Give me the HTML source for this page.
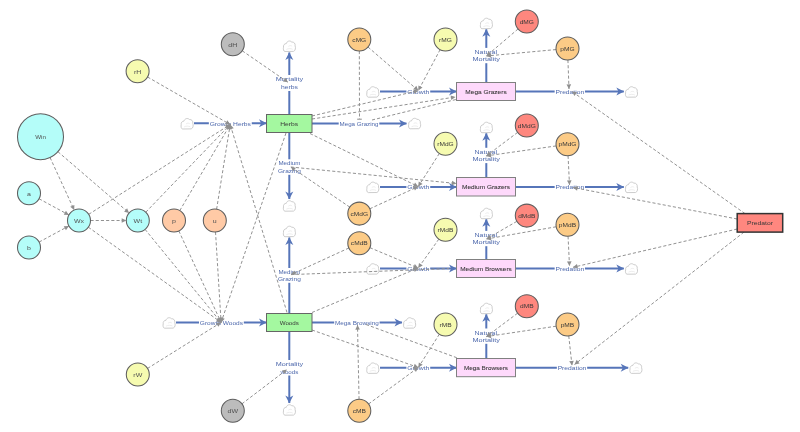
<!DOCTYPE html><html><head><meta charset="utf-8"><style>html,body{margin:0;padding:0;background:#fff;width:800px;height:432px;overflow:hidden}svg{display:block;will-change:transform}text{font-family:"Liberation Sans",sans-serif}</style></head><body><svg width="800" height="432" viewBox="0 0 800 432" font-family="Liberation Sans, sans-serif">
<rect width="800" height="432" fill="#fff"/>
<line x1="194" y1="123.3" x2="266.5" y2="123.3" stroke="#5675b9" stroke-width="2"/>
<path d="M266.80,123.30L259.00,127.30L261.20,123.30L259.00,119.30Z" fill="#5675b9"/>
<line x1="312" y1="123.5" x2="406.5" y2="123.5" stroke="#5675b9" stroke-width="2"/>
<path d="M406.80,123.50L399.00,127.50L401.20,123.50L399.00,119.50Z" fill="#5675b9"/>
<line x1="289.3" y1="114.5" x2="289.3" y2="52.5" stroke="#5675b9" stroke-width="2"/>
<path d="M289.30,52.20L293.30,60.00L289.30,57.80L285.30,60.00Z" fill="#5675b9"/>
<line x1="289.3" y1="132.5" x2="289.3" y2="199" stroke="#5675b9" stroke-width="2"/>
<path d="M289.30,199.30L285.30,191.50L289.30,193.70L293.30,191.50Z" fill="#5675b9"/>
<line x1="176" y1="322.5" x2="266.5" y2="322.5" stroke="#5675b9" stroke-width="2"/>
<path d="M266.80,322.50L259.00,326.50L261.20,322.50L259.00,318.50Z" fill="#5675b9"/>
<line x1="312" y1="322.5" x2="402" y2="322.5" stroke="#5675b9" stroke-width="2"/>
<path d="M402.30,322.50L394.50,326.50L396.70,322.50L394.50,318.50Z" fill="#5675b9"/>
<line x1="289.3" y1="313.5" x2="289.3" y2="237.5" stroke="#5675b9" stroke-width="2"/>
<path d="M289.30,237.20L293.30,245.00L289.30,242.80L285.30,245.00Z" fill="#5675b9"/>
<line x1="289.3" y1="331.5" x2="289.3" y2="403" stroke="#5675b9" stroke-width="2"/>
<path d="M289.30,403.30L285.30,395.50L289.30,397.70L293.30,395.50Z" fill="#5675b9"/>
<line x1="380" y1="91.5" x2="456.5" y2="91.5" stroke="#5675b9" stroke-width="2"/>
<path d="M456.80,91.50L449.00,95.50L451.20,91.50L449.00,87.50Z" fill="#5675b9"/>
<line x1="486.3" y1="82.5" x2="486.3" y2="29.3" stroke="#5675b9" stroke-width="2"/>
<path d="M486.30,29.00L490.30,36.80L486.30,34.60L482.30,36.80Z" fill="#5675b9"/>
<line x1="515.5" y1="91.5" x2="623.8" y2="91.5" stroke="#5675b9" stroke-width="2"/>
<path d="M624.10,91.50L616.30,95.50L618.50,91.50L616.30,87.50Z" fill="#5675b9"/>
<line x1="380" y1="186.9" x2="456.5" y2="186.9" stroke="#5675b9" stroke-width="2"/>
<path d="M456.80,186.90L449.00,190.90L451.20,186.90L449.00,182.90Z" fill="#5675b9"/>
<line x1="486.3" y1="177.9" x2="486.3" y2="133.3" stroke="#5675b9" stroke-width="2"/>
<path d="M486.30,133.00L490.30,140.80L486.30,138.60L482.30,140.80Z" fill="#5675b9"/>
<line x1="515.5" y1="186.9" x2="623.8" y2="186.9" stroke="#5675b9" stroke-width="2"/>
<path d="M624.10,186.90L616.30,190.90L618.50,186.90L616.30,182.90Z" fill="#5675b9"/>
<line x1="380" y1="268.5" x2="456.5" y2="268.5" stroke="#5675b9" stroke-width="2"/>
<path d="M456.80,268.50L449.00,272.50L451.20,268.50L449.00,264.50Z" fill="#5675b9"/>
<line x1="486.3" y1="259.5" x2="486.3" y2="219.3" stroke="#5675b9" stroke-width="2"/>
<path d="M486.30,219.00L490.30,226.80L486.30,224.60L482.30,226.80Z" fill="#5675b9"/>
<line x1="515.5" y1="268.5" x2="623.8" y2="268.5" stroke="#5675b9" stroke-width="2"/>
<path d="M624.10,268.50L616.30,272.50L618.50,268.50L616.30,264.50Z" fill="#5675b9"/>
<line x1="380" y1="367.7" x2="456.5" y2="367.7" stroke="#5675b9" stroke-width="2"/>
<path d="M456.80,367.70L449.00,371.70L451.20,367.70L449.00,363.70Z" fill="#5675b9"/>
<line x1="486.3" y1="358.7" x2="486.3" y2="314.3" stroke="#5675b9" stroke-width="2"/>
<path d="M486.30,314.00L490.30,321.80L486.30,319.60L482.30,321.80Z" fill="#5675b9"/>
<line x1="515.5" y1="367.7" x2="628.2" y2="367.7" stroke="#5675b9" stroke-width="2"/>
<path d="M628.50,367.70L620.70,371.70L622.90,367.70L620.70,363.70Z" fill="#5675b9"/>
<g transform="translate(180.60,117.40)"><path d="M2,11.6 C0.5,11.4 0.2,9 0.6,7.3 C0.2,5.2 1.7,3.6 3.4,3.7 C4,1.2 7,0.2 8.8,2.1 C11,1.8 12.7,3.8 12.2,6 C12.9,7.6 12.7,10.8 10.6,11.5 Z" fill="#fff" stroke="#c4c4c4" stroke-width="0.85"/><path d="M3.5,9.5 C5.5,8.5 8,8.5 9.8,9.4 M5.5,6.5 C6.8,5.5 8.2,5.5 9.2,6.4" fill="none" stroke="#e0e0e0" stroke-width="0.6"/></g>
<g transform="translate(408.10,117.20)"><path d="M2,11.6 C0.5,11.4 0.2,9 0.6,7.3 C0.2,5.2 1.7,3.6 3.4,3.7 C4,1.2 7,0.2 8.8,2.1 C11,1.8 12.7,3.8 12.2,6 C12.9,7.6 12.7,10.8 10.6,11.5 Z" fill="#fff" stroke="#c4c4c4" stroke-width="0.85"/><path d="M3.5,9.5 C5.5,8.5 8,8.5 9.8,9.4 M5.5,6.5 C6.8,5.5 8.2,5.5 9.2,6.4" fill="none" stroke="#e0e0e0" stroke-width="0.6"/></g>
<g transform="translate(282.90,39.90)"><path d="M2,11.6 C0.5,11.4 0.2,9 0.6,7.3 C0.2,5.2 1.7,3.6 3.4,3.7 C4,1.2 7,0.2 8.8,2.1 C11,1.8 12.7,3.8 12.2,6 C12.9,7.6 12.7,10.8 10.6,11.5 Z" fill="#fff" stroke="#c4c4c4" stroke-width="0.85"/><path d="M3.5,9.5 C5.5,8.5 8,8.5 9.8,9.4 M5.5,6.5 C6.8,5.5 8.2,5.5 9.2,6.4" fill="none" stroke="#e0e0e0" stroke-width="0.6"/></g>
<g transform="translate(282.90,199.60)"><path d="M2,11.6 C0.5,11.4 0.2,9 0.6,7.3 C0.2,5.2 1.7,3.6 3.4,3.7 C4,1.2 7,0.2 8.8,2.1 C11,1.8 12.7,3.8 12.2,6 C12.9,7.6 12.7,10.8 10.6,11.5 Z" fill="#fff" stroke="#c4c4c4" stroke-width="0.85"/><path d="M3.5,9.5 C5.5,8.5 8,8.5 9.8,9.4 M5.5,6.5 C6.8,5.5 8.2,5.5 9.2,6.4" fill="none" stroke="#e0e0e0" stroke-width="0.6"/></g>
<g transform="translate(162.60,316.60)"><path d="M2,11.6 C0.5,11.4 0.2,9 0.6,7.3 C0.2,5.2 1.7,3.6 3.4,3.7 C4,1.2 7,0.2 8.8,2.1 C11,1.8 12.7,3.8 12.2,6 C12.9,7.6 12.7,10.8 10.6,11.5 Z" fill="#fff" stroke="#c4c4c4" stroke-width="0.85"/><path d="M3.5,9.5 C5.5,8.5 8,8.5 9.8,9.4 M5.5,6.5 C6.8,5.5 8.2,5.5 9.2,6.4" fill="none" stroke="#e0e0e0" stroke-width="0.6"/></g>
<g transform="translate(403.10,316.60)"><path d="M2,11.6 C0.5,11.4 0.2,9 0.6,7.3 C0.2,5.2 1.7,3.6 3.4,3.7 C4,1.2 7,0.2 8.8,2.1 C11,1.8 12.7,3.8 12.2,6 C12.9,7.6 12.7,10.8 10.6,11.5 Z" fill="#fff" stroke="#c4c4c4" stroke-width="0.85"/><path d="M3.5,9.5 C5.5,8.5 8,8.5 9.8,9.4 M5.5,6.5 C6.8,5.5 8.2,5.5 9.2,6.4" fill="none" stroke="#e0e0e0" stroke-width="0.6"/></g>
<g transform="translate(282.90,225.10)"><path d="M2,11.6 C0.5,11.4 0.2,9 0.6,7.3 C0.2,5.2 1.7,3.6 3.4,3.7 C4,1.2 7,0.2 8.8,2.1 C11,1.8 12.7,3.8 12.2,6 C12.9,7.6 12.7,10.8 10.6,11.5 Z" fill="#fff" stroke="#c4c4c4" stroke-width="0.85"/><path d="M3.5,9.5 C5.5,8.5 8,8.5 9.8,9.4 M5.5,6.5 C6.8,5.5 8.2,5.5 9.2,6.4" fill="none" stroke="#e0e0e0" stroke-width="0.6"/></g>
<g transform="translate(282.90,403.60)"><path d="M2,11.6 C0.5,11.4 0.2,9 0.6,7.3 C0.2,5.2 1.7,3.6 3.4,3.7 C4,1.2 7,0.2 8.8,2.1 C11,1.8 12.7,3.8 12.2,6 C12.9,7.6 12.7,10.8 10.6,11.5 Z" fill="#fff" stroke="#c4c4c4" stroke-width="0.85"/><path d="M3.5,9.5 C5.5,8.5 8,8.5 9.8,9.4 M5.5,6.5 C6.8,5.5 8.2,5.5 9.2,6.4" fill="none" stroke="#e0e0e0" stroke-width="0.6"/></g>
<g transform="translate(366.30,85.60)"><path d="M2,11.6 C0.5,11.4 0.2,9 0.6,7.3 C0.2,5.2 1.7,3.6 3.4,3.7 C4,1.2 7,0.2 8.8,2.1 C11,1.8 12.7,3.8 12.2,6 C12.9,7.6 12.7,10.8 10.6,11.5 Z" fill="#fff" stroke="#c4c4c4" stroke-width="0.85"/><path d="M3.5,9.5 C5.5,8.5 8,8.5 9.8,9.4 M5.5,6.5 C6.8,5.5 8.2,5.5 9.2,6.4" fill="none" stroke="#e0e0e0" stroke-width="0.6"/></g>
<g transform="translate(479.90,17.10)"><path d="M2,11.6 C0.5,11.4 0.2,9 0.6,7.3 C0.2,5.2 1.7,3.6 3.4,3.7 C4,1.2 7,0.2 8.8,2.1 C11,1.8 12.7,3.8 12.2,6 C12.9,7.6 12.7,10.8 10.6,11.5 Z" fill="#fff" stroke="#c4c4c4" stroke-width="0.85"/><path d="M3.5,9.5 C5.5,8.5 8,8.5 9.8,9.4 M5.5,6.5 C6.8,5.5 8.2,5.5 9.2,6.4" fill="none" stroke="#e0e0e0" stroke-width="0.6"/></g>
<g transform="translate(625.00,85.60)"><path d="M2,11.6 C0.5,11.4 0.2,9 0.6,7.3 C0.2,5.2 1.7,3.6 3.4,3.7 C4,1.2 7,0.2 8.8,2.1 C11,1.8 12.7,3.8 12.2,6 C12.9,7.6 12.7,10.8 10.6,11.5 Z" fill="#fff" stroke="#c4c4c4" stroke-width="0.85"/><path d="M3.5,9.5 C5.5,8.5 8,8.5 9.8,9.4 M5.5,6.5 C6.8,5.5 8.2,5.5 9.2,6.4" fill="none" stroke="#e0e0e0" stroke-width="0.6"/></g>
<g transform="translate(366.30,181.00)"><path d="M2,11.6 C0.5,11.4 0.2,9 0.6,7.3 C0.2,5.2 1.7,3.6 3.4,3.7 C4,1.2 7,0.2 8.8,2.1 C11,1.8 12.7,3.8 12.2,6 C12.9,7.6 12.7,10.8 10.6,11.5 Z" fill="#fff" stroke="#c4c4c4" stroke-width="0.85"/><path d="M3.5,9.5 C5.5,8.5 8,8.5 9.8,9.4 M5.5,6.5 C6.8,5.5 8.2,5.5 9.2,6.4" fill="none" stroke="#e0e0e0" stroke-width="0.6"/></g>
<g transform="translate(479.90,121.10)"><path d="M2,11.6 C0.5,11.4 0.2,9 0.6,7.3 C0.2,5.2 1.7,3.6 3.4,3.7 C4,1.2 7,0.2 8.8,2.1 C11,1.8 12.7,3.8 12.2,6 C12.9,7.6 12.7,10.8 10.6,11.5 Z" fill="#fff" stroke="#c4c4c4" stroke-width="0.85"/><path d="M3.5,9.5 C5.5,8.5 8,8.5 9.8,9.4 M5.5,6.5 C6.8,5.5 8.2,5.5 9.2,6.4" fill="none" stroke="#e0e0e0" stroke-width="0.6"/></g>
<g transform="translate(625.00,181.00)"><path d="M2,11.6 C0.5,11.4 0.2,9 0.6,7.3 C0.2,5.2 1.7,3.6 3.4,3.7 C4,1.2 7,0.2 8.8,2.1 C11,1.8 12.7,3.8 12.2,6 C12.9,7.6 12.7,10.8 10.6,11.5 Z" fill="#fff" stroke="#c4c4c4" stroke-width="0.85"/><path d="M3.5,9.5 C5.5,8.5 8,8.5 9.8,9.4 M5.5,6.5 C6.8,5.5 8.2,5.5 9.2,6.4" fill="none" stroke="#e0e0e0" stroke-width="0.6"/></g>
<g transform="translate(366.30,262.60)"><path d="M2,11.6 C0.5,11.4 0.2,9 0.6,7.3 C0.2,5.2 1.7,3.6 3.4,3.7 C4,1.2 7,0.2 8.8,2.1 C11,1.8 12.7,3.8 12.2,6 C12.9,7.6 12.7,10.8 10.6,11.5 Z" fill="#fff" stroke="#c4c4c4" stroke-width="0.85"/><path d="M3.5,9.5 C5.5,8.5 8,8.5 9.8,9.4 M5.5,6.5 C6.8,5.5 8.2,5.5 9.2,6.4" fill="none" stroke="#e0e0e0" stroke-width="0.6"/></g>
<g transform="translate(479.90,207.10)"><path d="M2,11.6 C0.5,11.4 0.2,9 0.6,7.3 C0.2,5.2 1.7,3.6 3.4,3.7 C4,1.2 7,0.2 8.8,2.1 C11,1.8 12.7,3.8 12.2,6 C12.9,7.6 12.7,10.8 10.6,11.5 Z" fill="#fff" stroke="#c4c4c4" stroke-width="0.85"/><path d="M3.5,9.5 C5.5,8.5 8,8.5 9.8,9.4 M5.5,6.5 C6.8,5.5 8.2,5.5 9.2,6.4" fill="none" stroke="#e0e0e0" stroke-width="0.6"/></g>
<g transform="translate(625.00,262.60)"><path d="M2,11.6 C0.5,11.4 0.2,9 0.6,7.3 C0.2,5.2 1.7,3.6 3.4,3.7 C4,1.2 7,0.2 8.8,2.1 C11,1.8 12.7,3.8 12.2,6 C12.9,7.6 12.7,10.8 10.6,11.5 Z" fill="#fff" stroke="#c4c4c4" stroke-width="0.85"/><path d="M3.5,9.5 C5.5,8.5 8,8.5 9.8,9.4 M5.5,6.5 C6.8,5.5 8.2,5.5 9.2,6.4" fill="none" stroke="#e0e0e0" stroke-width="0.6"/></g>
<g transform="translate(366.30,361.80)"><path d="M2,11.6 C0.5,11.4 0.2,9 0.6,7.3 C0.2,5.2 1.7,3.6 3.4,3.7 C4,1.2 7,0.2 8.8,2.1 C11,1.8 12.7,3.8 12.2,6 C12.9,7.6 12.7,10.8 10.6,11.5 Z" fill="#fff" stroke="#c4c4c4" stroke-width="0.85"/><path d="M3.5,9.5 C5.5,8.5 8,8.5 9.8,9.4 M5.5,6.5 C6.8,5.5 8.2,5.5 9.2,6.4" fill="none" stroke="#e0e0e0" stroke-width="0.6"/></g>
<g transform="translate(479.90,302.10)"><path d="M2,11.6 C0.5,11.4 0.2,9 0.6,7.3 C0.2,5.2 1.7,3.6 3.4,3.7 C4,1.2 7,0.2 8.8,2.1 C11,1.8 12.7,3.8 12.2,6 C12.9,7.6 12.7,10.8 10.6,11.5 Z" fill="#fff" stroke="#c4c4c4" stroke-width="0.85"/><path d="M3.5,9.5 C5.5,8.5 8,8.5 9.8,9.4 M5.5,6.5 C6.8,5.5 8.2,5.5 9.2,6.4" fill="none" stroke="#e0e0e0" stroke-width="0.6"/></g>
<g transform="translate(629.40,361.80)"><path d="M2,11.6 C0.5,11.4 0.2,9 0.6,7.3 C0.2,5.2 1.7,3.6 3.4,3.7 C4,1.2 7,0.2 8.8,2.1 C11,1.8 12.7,3.8 12.2,6 C12.9,7.6 12.7,10.8 10.6,11.5 Z" fill="#fff" stroke="#c4c4c4" stroke-width="0.85"/><path d="M3.5,9.5 C5.5,8.5 8,8.5 9.8,9.4 M5.5,6.5 C6.8,5.5 8.2,5.5 9.2,6.4" fill="none" stroke="#e0e0e0" stroke-width="0.6"/></g>
<rect x="208.85" y="119.49" width="42.90" height="8.02" fill="#fff"/>
<text x="230.3" y="125.62" font-size="5.9" fill="#4d68ac" text-anchor="middle" textLength="41.3" lengthAdjust="spacingAndGlyphs">Growth Herbs</text>
<rect x="338.70" y="120.19" width="40.60" height="8.02" fill="#fff"/>
<text x="359" y="126.32" font-size="5.9" fill="#4d68ac" text-anchor="middle" textLength="39" lengthAdjust="spacingAndGlyphs">Mega Grazing</text>
<rect x="274.95" y="74.99" width="28.90" height="8.02" fill="#fff"/>
<text x="289.4" y="81.12" font-size="5.9" fill="#4d68ac" text-anchor="middle" textLength="27.3" lengthAdjust="spacingAndGlyphs">Mortality</text>
<rect x="280.10" y="82.99" width="18.60" height="8.02" fill="#fff"/>
<text x="289.4" y="89.12" font-size="5.9" fill="#4d68ac" text-anchor="middle" textLength="17" lengthAdjust="spacingAndGlyphs">herbs</text>
<rect x="277.60" y="159.29" width="23.60" height="8.02" fill="#fff"/>
<text x="289.4" y="165.42" font-size="5.9" fill="#4d68ac" text-anchor="middle" textLength="22" lengthAdjust="spacingAndGlyphs">Medium</text>
<rect x="277.10" y="166.79" width="24.60" height="8.02" fill="#fff"/>
<text x="289.4" y="172.92" font-size="5.9" fill="#4d68ac" text-anchor="middle" textLength="23" lengthAdjust="spacingAndGlyphs">Grazing</text>
<rect x="199.00" y="318.79" width="44.80" height="8.02" fill="#fff"/>
<text x="221.4" y="324.92" font-size="5.9" fill="#4d68ac" text-anchor="middle" textLength="43.2" lengthAdjust="spacingAndGlyphs">Growth Woods</text>
<rect x="334.20" y="318.89" width="45.40" height="8.02" fill="#fff"/>
<text x="356.9" y="325.02" font-size="5.9" fill="#4d68ac" text-anchor="middle" textLength="43.8" lengthAdjust="spacingAndGlyphs">Mega Browsing</text>
<rect x="277.60" y="267.99" width="23.60" height="8.02" fill="#fff"/>
<text x="289.4" y="274.12" font-size="5.9" fill="#4d68ac" text-anchor="middle" textLength="22" lengthAdjust="spacingAndGlyphs">Medium</text>
<rect x="277.10" y="274.79" width="24.60" height="8.02" fill="#fff"/>
<text x="289.4" y="280.92" font-size="5.9" fill="#4d68ac" text-anchor="middle" textLength="23" lengthAdjust="spacingAndGlyphs">Grazing</text>
<rect x="274.95" y="359.99" width="28.90" height="8.02" fill="#fff"/>
<text x="289.4" y="366.12" font-size="5.9" fill="#4d68ac" text-anchor="middle" textLength="27.3" lengthAdjust="spacingAndGlyphs">Mortality</text>
<rect x="279.60" y="367.49" width="19.60" height="8.02" fill="#fff"/>
<text x="289.4" y="373.62" font-size="5.9" fill="#4d68ac" text-anchor="middle" textLength="18" lengthAdjust="spacingAndGlyphs">woods</text>
<rect x="406.40" y="87.59" width="23.80" height="8.02" fill="#fff"/>
<text x="418.3" y="93.72" font-size="5.9" fill="#4d68ac" text-anchor="middle" textLength="22.2" lengthAdjust="spacingAndGlyphs">Growth</text>
<rect x="473.75" y="47.89" width="24.10" height="8.02" fill="#fff"/>
<text x="485.8" y="54.02" font-size="5.9" fill="#4d68ac" text-anchor="middle" textLength="22.5" lengthAdjust="spacingAndGlyphs">Natural</text>
<rect x="471.60" y="55.19" width="29.20" height="8.02" fill="#fff"/>
<text x="486.2" y="61.32" font-size="5.9" fill="#4d68ac" text-anchor="middle" textLength="27.6" lengthAdjust="spacingAndGlyphs">Mortality</text>
<rect x="554.65" y="87.79" width="30.30" height="8.02" fill="#fff"/>
<text x="569.8" y="93.92" font-size="5.9" fill="#4d68ac" text-anchor="middle" textLength="28.7" lengthAdjust="spacingAndGlyphs">Predation</text>
<rect x="406.40" y="182.99" width="23.80" height="8.02" fill="#fff"/>
<text x="418.3" y="189.12" font-size="5.9" fill="#4d68ac" text-anchor="middle" textLength="22.2" lengthAdjust="spacingAndGlyphs">Growth</text>
<rect x="473.75" y="147.79" width="24.10" height="8.02" fill="#fff"/>
<text x="485.8" y="153.92" font-size="5.9" fill="#4d68ac" text-anchor="middle" textLength="22.5" lengthAdjust="spacingAndGlyphs">Natural</text>
<rect x="471.60" y="155.09" width="29.20" height="8.02" fill="#fff"/>
<text x="486.2" y="161.22" font-size="5.9" fill="#4d68ac" text-anchor="middle" textLength="27.6" lengthAdjust="spacingAndGlyphs">Mortality</text>
<rect x="554.65" y="183.19" width="30.30" height="8.02" fill="#fff"/>
<text x="569.8" y="189.32" font-size="5.9" fill="#4d68ac" text-anchor="middle" textLength="28.7" lengthAdjust="spacingAndGlyphs">Predation</text>
<rect x="406.40" y="264.59" width="23.80" height="8.02" fill="#fff"/>
<text x="418.3" y="270.72" font-size="5.9" fill="#4d68ac" text-anchor="middle" textLength="22.2" lengthAdjust="spacingAndGlyphs">Growth</text>
<rect x="473.75" y="230.89" width="24.10" height="8.02" fill="#fff"/>
<text x="485.8" y="237.02" font-size="5.9" fill="#4d68ac" text-anchor="middle" textLength="22.5" lengthAdjust="spacingAndGlyphs">Natural</text>
<rect x="471.60" y="238.19" width="29.20" height="8.02" fill="#fff"/>
<text x="486.2" y="244.32" font-size="5.9" fill="#4d68ac" text-anchor="middle" textLength="27.6" lengthAdjust="spacingAndGlyphs">Mortality</text>
<rect x="554.65" y="264.79" width="30.30" height="8.02" fill="#fff"/>
<text x="569.8" y="270.92" font-size="5.9" fill="#4d68ac" text-anchor="middle" textLength="28.7" lengthAdjust="spacingAndGlyphs">Predation</text>
<rect x="406.40" y="363.79" width="23.80" height="8.02" fill="#fff"/>
<text x="418.3" y="369.92" font-size="5.9" fill="#4d68ac" text-anchor="middle" textLength="22.2" lengthAdjust="spacingAndGlyphs">Growth</text>
<rect x="473.75" y="328.49" width="24.10" height="8.02" fill="#fff"/>
<text x="485.8" y="334.62" font-size="5.9" fill="#4d68ac" text-anchor="middle" textLength="22.5" lengthAdjust="spacingAndGlyphs">Natural</text>
<rect x="471.60" y="335.79" width="29.20" height="8.02" fill="#fff"/>
<text x="486.2" y="341.92" font-size="5.9" fill="#4d68ac" text-anchor="middle" textLength="27.6" lengthAdjust="spacingAndGlyphs">Mortality</text>
<rect x="556.85" y="363.99" width="30.30" height="8.02" fill="#fff"/>
<text x="572" y="370.12" font-size="5.9" fill="#4d68ac" text-anchor="middle" textLength="28.7" lengthAdjust="spacingAndGlyphs">Predation</text>
<line x1="50.10" y1="157.60" x2="74.20" y2="210.05" stroke="#929292" stroke-width="1" stroke-dasharray="3.1,2.1"/>
<path d="M74.20,210.05L70.19,206.83L74.37,204.91Z" fill="#8f8f8f"/>
<line x1="57.93" y1="151.71" x2="129.09" y2="213.00" stroke="#929292" stroke-width="1" stroke-dasharray="3.1,2.1"/>
<path d="M129.09,213.00L124.10,211.74L127.10,208.25Z" fill="#8f8f8f"/>
<line x1="39.10" y1="198.80" x2="68.90" y2="215.00" stroke="#929292" stroke-width="1" stroke-dasharray="3.1,2.1"/>
<path d="M68.90,215.00L63.76,214.83L65.96,210.79Z" fill="#8f8f8f"/>
<line x1="39.12" y1="242.04" x2="68.88" y2="225.96" stroke="#929292" stroke-width="1" stroke-dasharray="3.1,2.1"/>
<path d="M68.88,225.96L65.93,230.17L63.74,226.13Z" fill="#8f8f8f"/>
<line x1="90.50" y1="220.50" x2="126.30" y2="220.50" stroke="#929292" stroke-width="1" stroke-dasharray="3.1,2.1"/>
<path d="M126.30,220.50L121.70,222.80L121.70,218.20Z" fill="#8f8f8f"/>
<line x1="88.71" y1="214.34" x2="230.20" y2="124.50" stroke="#929292" stroke-width="1" stroke-dasharray="3.1,2.1"/>
<path d="M230.20,124.50L227.55,128.91L225.08,125.02Z" fill="#8f8f8f"/>
<line x1="145.77" y1="212.21" x2="230.20" y2="124.50" stroke="#929292" stroke-width="1" stroke-dasharray="3.1,2.1"/>
<path d="M230.20,124.50L228.67,129.41L225.35,126.22Z" fill="#8f8f8f"/>
<line x1="179.81" y1="210.58" x2="230.20" y2="124.50" stroke="#929292" stroke-width="1" stroke-dasharray="3.1,2.1"/>
<path d="M230.20,124.50L229.86,129.63L225.89,127.31Z" fill="#8f8f8f"/>
<line x1="216.62" y1="209.15" x2="230.20" y2="124.50" stroke="#929292" stroke-width="1" stroke-dasharray="3.1,2.1"/>
<path d="M230.20,124.50L231.74,129.41L227.20,128.68Z" fill="#8f8f8f"/>
<line x1="147.57" y1="77.03" x2="230.20" y2="124.50" stroke="#929292" stroke-width="1" stroke-dasharray="3.1,2.1"/>
<path d="M230.20,124.50L225.07,124.20L227.36,120.21Z" fill="#8f8f8f"/>
<line x1="287.00" y1="312.50" x2="230.20" y2="124.50" stroke="#929292" stroke-width="1" stroke-dasharray="3.1,2.1"/>
<path d="M230.20,124.50L233.73,128.24L229.33,129.57Z" fill="#8f8f8f"/>
<line x1="88.35" y1="227.20" x2="221.10" y2="322.40" stroke="#929292" stroke-width="1" stroke-dasharray="3.1,2.1"/>
<path d="M221.10,322.40L216.02,321.59L218.70,317.85Z" fill="#8f8f8f"/>
<line x1="145.08" y1="229.40" x2="221.10" y2="322.40" stroke="#929292" stroke-width="1" stroke-dasharray="3.1,2.1"/>
<path d="M221.10,322.40L216.41,320.29L219.97,317.38Z" fill="#8f8f8f"/>
<line x1="178.83" y1="230.94" x2="221.10" y2="322.40" stroke="#929292" stroke-width="1" stroke-dasharray="3.1,2.1"/>
<path d="M221.10,322.40L217.08,319.19L221.26,317.26Z" fill="#8f8f8f"/>
<line x1="215.51" y1="231.98" x2="221.10" y2="322.40" stroke="#929292" stroke-width="1" stroke-dasharray="3.1,2.1"/>
<path d="M221.10,322.40L218.52,317.95L223.11,317.67Z" fill="#8f8f8f"/>
<line x1="147.55" y1="368.40" x2="221.10" y2="322.40" stroke="#929292" stroke-width="1" stroke-dasharray="3.1,2.1"/>
<path d="M221.10,322.40L218.42,326.79L215.98,322.89Z" fill="#8f8f8f"/>
<line x1="286.00" y1="133.00" x2="221.10" y2="322.40" stroke="#929292" stroke-width="1" stroke-dasharray="3.1,2.1"/>
<path d="M221.10,322.40L220.42,317.30L224.77,318.79Z" fill="#8f8f8f"/>
<line x1="242.27" y1="50.82" x2="288.00" y2="82.30" stroke="#929292" stroke-width="1" stroke-dasharray="3.1,2.1"/>
<path d="M288.00,82.30L282.91,81.59L285.52,77.80Z" fill="#8f8f8f"/>
<line x1="241.95" y1="403.83" x2="287.00" y2="369.50" stroke="#929292" stroke-width="1" stroke-dasharray="3.1,2.1"/>
<path d="M287.00,369.50L284.74,374.12L281.95,370.46Z" fill="#8f8f8f"/>
<line x1="367.99" y1="47.03" x2="418.30" y2="90.60" stroke="#929292" stroke-width="1" stroke-dasharray="3.1,2.1"/>
<path d="M418.30,90.60L413.32,89.33L416.33,85.85Z" fill="#8f8f8f"/>
<line x1="440.10" y1="49.65" x2="418.30" y2="90.60" stroke="#929292" stroke-width="1" stroke-dasharray="3.1,2.1"/>
<path d="M418.30,90.60L418.43,85.46L422.49,87.62Z" fill="#8f8f8f"/>
<line x1="312.00" y1="116.00" x2="418.30" y2="90.60" stroke="#929292" stroke-width="1" stroke-dasharray="3.1,2.1"/>
<path d="M418.30,90.60L414.36,93.91L413.29,89.43Z" fill="#8f8f8f"/>
<line x1="312.00" y1="119.00" x2="455.50" y2="97.00" stroke="#929292" stroke-width="1" stroke-dasharray="3.1,2.1"/>
<path d="M455.50,97.00L451.30,99.97L450.60,95.42Z" fill="#8f8f8f"/>
<line x1="349.79" y1="207.13" x2="290.80" y2="167.00" stroke="#929292" stroke-width="1" stroke-dasharray="3.1,2.1"/>
<path d="M290.80,167.00L295.90,167.69L293.31,171.49Z" fill="#8f8f8f"/>
<line x1="369.75" y1="208.81" x2="418.20" y2="186.60" stroke="#929292" stroke-width="1" stroke-dasharray="3.1,2.1"/>
<path d="M418.20,186.60L414.98,190.61L413.06,186.43Z" fill="#8f8f8f"/>
<line x1="439.32" y1="153.50" x2="418.20" y2="186.60" stroke="#929292" stroke-width="1" stroke-dasharray="3.1,2.1"/>
<path d="M418.20,186.60L418.73,181.48L422.61,183.96Z" fill="#8f8f8f"/>
<line x1="310.00" y1="133.50" x2="418.20" y2="186.60" stroke="#929292" stroke-width="1" stroke-dasharray="3.1,2.1"/>
<path d="M418.20,186.60L413.06,186.64L415.08,182.51Z" fill="#8f8f8f"/>
<line x1="290.80" y1="167.00" x2="456.50" y2="183.50" stroke="#929292" stroke-width="1" stroke-dasharray="3.1,2.1"/>
<path d="M456.50,183.50L451.69,185.33L452.15,180.76Z" fill="#8f8f8f"/>
<line x1="348.85" y1="248.00" x2="291.00" y2="274.60" stroke="#929292" stroke-width="1" stroke-dasharray="3.1,2.1"/>
<path d="M291.00,274.60L294.22,270.59L296.14,274.77Z" fill="#8f8f8f"/>
<line x1="369.90" y1="247.66" x2="418.20" y2="268.00" stroke="#929292" stroke-width="1" stroke-dasharray="3.1,2.1"/>
<path d="M418.20,268.00L413.07,268.33L414.85,264.10Z" fill="#8f8f8f"/>
<line x1="438.81" y1="239.16" x2="418.20" y2="268.00" stroke="#929292" stroke-width="1" stroke-dasharray="3.1,2.1"/>
<path d="M418.20,268.00L419.00,262.92L422.75,265.59Z" fill="#8f8f8f"/>
<line x1="312.00" y1="312.50" x2="418.20" y2="268.00" stroke="#929292" stroke-width="1" stroke-dasharray="3.1,2.1"/>
<path d="M418.20,268.00L414.85,271.90L413.07,267.66Z" fill="#8f8f8f"/>
<line x1="359.06" y1="399.30" x2="357.50" y2="325.00" stroke="#929292" stroke-width="1" stroke-dasharray="3.1,2.1"/>
<path d="M357.50,325.00L359.90,329.55L355.30,329.65Z" fill="#8f8f8f"/>
<line x1="368.57" y1="404.00" x2="418.30" y2="367.50" stroke="#929292" stroke-width="1" stroke-dasharray="3.1,2.1"/>
<path d="M418.30,367.50L415.95,372.08L413.23,368.37Z" fill="#8f8f8f"/>
<line x1="439.35" y1="334.22" x2="418.30" y2="367.50" stroke="#929292" stroke-width="1" stroke-dasharray="3.1,2.1"/>
<path d="M418.30,367.50L418.82,362.38L422.70,364.84Z" fill="#8f8f8f"/>
<line x1="312.00" y1="330.00" x2="418.30" y2="367.50" stroke="#929292" stroke-width="1" stroke-dasharray="3.1,2.1"/>
<path d="M418.30,367.50L413.20,368.14L414.73,363.80Z" fill="#8f8f8f"/>
<line x1="518.05" y1="28.97" x2="486.40" y2="56.00" stroke="#929292" stroke-width="1" stroke-dasharray="3.1,2.1"/>
<path d="M486.40,56.00L488.40,51.26L491.39,54.76Z" fill="#8f8f8f"/>
<line x1="556.05" y1="49.56" x2="486.40" y2="56.00" stroke="#929292" stroke-width="1" stroke-dasharray="3.1,2.1"/>
<path d="M486.40,56.00L490.77,53.29L491.19,57.87Z" fill="#8f8f8f"/>
<line x1="567.93" y1="59.99" x2="569.00" y2="89.00" stroke="#929292" stroke-width="1" stroke-dasharray="3.1,2.1"/>
<path d="M569.00,89.00L566.53,84.49L571.13,84.32Z" fill="#8f8f8f"/>
<line x1="745.00" y1="213.60" x2="572.00" y2="91.50" stroke="#929292" stroke-width="1" stroke-dasharray="3.1,2.1"/>
<path d="M572.00,91.50L577.08,92.27L574.43,96.03Z" fill="#8f8f8f"/>
<line x1="517.61" y1="132.41" x2="486.40" y2="155.90" stroke="#929292" stroke-width="1" stroke-dasharray="3.1,2.1"/>
<path d="M486.40,155.90L488.69,151.30L491.46,154.97Z" fill="#8f8f8f"/>
<line x1="556.12" y1="145.93" x2="486.40" y2="155.90" stroke="#929292" stroke-width="1" stroke-dasharray="3.1,2.1"/>
<path d="M486.40,155.90L490.63,152.97L491.28,157.53Z" fill="#8f8f8f"/>
<line x1="568.06" y1="155.79" x2="569.50" y2="185.00" stroke="#929292" stroke-width="1" stroke-dasharray="3.1,2.1"/>
<path d="M569.50,185.00L566.98,180.52L571.57,180.29Z" fill="#8f8f8f"/>
<line x1="737.20" y1="219.00" x2="573.00" y2="187.50" stroke="#929292" stroke-width="1" stroke-dasharray="3.1,2.1"/>
<path d="M573.00,187.50L577.95,186.11L577.08,190.63Z" fill="#8f8f8f"/>
<line x1="516.85" y1="221.36" x2="486.40" y2="239.00" stroke="#929292" stroke-width="1" stroke-dasharray="3.1,2.1"/>
<path d="M486.40,239.00L489.23,234.70L491.53,238.68Z" fill="#8f8f8f"/>
<line x1="556.17" y1="226.78" x2="486.40" y2="239.00" stroke="#929292" stroke-width="1" stroke-dasharray="3.1,2.1"/>
<path d="M486.40,239.00L490.53,235.94L491.33,240.47Z" fill="#8f8f8f"/>
<line x1="568.06" y1="236.29" x2="569.50" y2="266.00" stroke="#929292" stroke-width="1" stroke-dasharray="3.1,2.1"/>
<path d="M569.50,266.00L566.98,261.52L571.57,261.29Z" fill="#8f8f8f"/>
<line x1="737.20" y1="229.00" x2="573.00" y2="267.30" stroke="#929292" stroke-width="1" stroke-dasharray="3.1,2.1"/>
<path d="M573.00,267.30L576.96,264.02L578.00,268.49Z" fill="#8f8f8f"/>
<line x1="517.60" y1="313.20" x2="486.40" y2="336.60" stroke="#929292" stroke-width="1" stroke-dasharray="3.1,2.1"/>
<path d="M486.40,336.60L488.70,332.00L491.46,335.68Z" fill="#8f8f8f"/>
<line x1="556.13" y1="326.20" x2="486.40" y2="336.60" stroke="#929292" stroke-width="1" stroke-dasharray="3.1,2.1"/>
<path d="M486.40,336.60L490.61,333.65L491.29,338.20Z" fill="#8f8f8f"/>
<line x1="568.75" y1="335.93" x2="572.00" y2="365.50" stroke="#929292" stroke-width="1" stroke-dasharray="3.1,2.1"/>
<path d="M572.00,365.50L569.21,361.18L573.78,360.68Z" fill="#8f8f8f"/>
<line x1="744.00" y1="232.10" x2="574.50" y2="364.50" stroke="#929292" stroke-width="1" stroke-dasharray="3.1,2.1"/>
<path d="M574.50,364.50L576.71,359.86L579.54,363.48Z" fill="#8f8f8f"/>
<line x1="372.00" y1="120.00" x2="456.00" y2="99.50" stroke="#929292" stroke-width="1" stroke-dasharray="3.1,2.1"/>
<line x1="291.00" y1="274.60" x2="449.00" y2="268.60" stroke="#929292" stroke-width="1" stroke-dasharray="3.1,2.1"/>
<line x1="359.33" y1="51.00" x2="359.50" y2="119.00" stroke="#929292" stroke-width="1" stroke-dasharray="3.1,2.1"/>
<line x1="357.2" y1="119.2" x2="361.8" y2="119.2" stroke="#8a8a8a" stroke-width="1"/>
<line x1="366.00" y1="324.50" x2="457.00" y2="357.80" stroke="#929292" stroke-width="1" stroke-dasharray="3.1,2.1"/>
<circle cx="40.5" cy="136.7" r="23" fill="#b4fdf9" stroke="#5e5e5e" stroke-width="1.05"/>
<text x="40.5" y="138.93" font-size="6.2" fill="#505050" text-anchor="middle">Win</text>
<circle cx="29" cy="193.3" r="11.5" fill="#b4fdf9" stroke="#5e5e5e" stroke-width="1.05"/>
<text x="29" y="195.53" font-size="6.2" fill="#505050" text-anchor="middle" textLength="3.9" lengthAdjust="spacingAndGlyphs">a</text>
<circle cx="29" cy="247.5" r="11.5" fill="#b4fdf9" stroke="#5e5e5e" stroke-width="1.05"/>
<text x="29" y="249.73" font-size="6.2" fill="#505050" text-anchor="middle" textLength="3.9" lengthAdjust="spacingAndGlyphs">b</text>
<circle cx="79" cy="220.5" r="11.5" fill="#b4fdf9" stroke="#5e5e5e" stroke-width="1.05"/>
<text x="79" y="222.73" font-size="6.2" fill="#505050" text-anchor="middle" textLength="10.12" lengthAdjust="spacingAndGlyphs">Wx</text>
<circle cx="137.8" cy="220.5" r="11.5" fill="#b4fdf9" stroke="#5e5e5e" stroke-width="1.05"/>
<text x="137.8" y="222.73" font-size="6.2" fill="#505050" text-anchor="middle" textLength="8.56" lengthAdjust="spacingAndGlyphs">Wt</text>
<circle cx="174" cy="220.5" r="11.5" fill="#ffcaa6" stroke="#5e5e5e" stroke-width="1.05"/>
<text x="174" y="222.73" font-size="6.2" fill="#505050" text-anchor="middle" textLength="3.9" lengthAdjust="spacingAndGlyphs">p</text>
<circle cx="214.8" cy="220.5" r="11.5" fill="#ffcaa6" stroke="#5e5e5e" stroke-width="1.05"/>
<text x="214.8" y="222.73" font-size="6.2" fill="#505050" text-anchor="middle" textLength="3.9" lengthAdjust="spacingAndGlyphs">u</text>
<circle cx="137.6" cy="71.3" r="11.5" fill="#f6fbb0" stroke="#5e5e5e" stroke-width="1.05"/>
<text x="137.6" y="73.53" font-size="6.2" fill="#505050" text-anchor="middle" textLength="7.39" lengthAdjust="spacingAndGlyphs">rH</text>
<circle cx="137.8" cy="374.5" r="11.5" fill="#f6fbb0" stroke="#5e5e5e" stroke-width="1.05"/>
<text x="137.8" y="376.73" font-size="6.2" fill="#505050" text-anchor="middle" textLength="8.95" lengthAdjust="spacingAndGlyphs">rW</text>
<circle cx="232.8" cy="44.3" r="11.5" fill="#bcbcbc" stroke="#5e5e5e" stroke-width="1.05"/>
<text x="232.8" y="46.53" font-size="6.2" fill="#505050" text-anchor="middle" textLength="8.95" lengthAdjust="spacingAndGlyphs">dH</text>
<circle cx="232.8" cy="410.8" r="11.5" fill="#bcbcbc" stroke="#5e5e5e" stroke-width="1.05"/>
<text x="232.8" y="413.03" font-size="6.2" fill="#505050" text-anchor="middle" textLength="10.51" lengthAdjust="spacingAndGlyphs">dW</text>
<circle cx="359.3" cy="39.5" r="11.5" fill="#fccb86" stroke="#5e5e5e" stroke-width="1.05"/>
<text x="359.3" y="41.66" font-size="6.0" fill="#383838" text-anchor="middle" textLength="13.93" lengthAdjust="spacingAndGlyphs">cMG</text>
<circle cx="445.5" cy="39.5" r="11.5" fill="#f6fbb0" stroke="#5e5e5e" stroke-width="1.05"/>
<text x="445.5" y="41.66" font-size="6.0" fill="#383838" text-anchor="middle" textLength="12.83" lengthAdjust="spacingAndGlyphs">rMG</text>
<circle cx="526.8" cy="21.5" r="11.5" fill="#fe877e" stroke="#5e5e5e" stroke-width="1.05"/>
<text x="526.8" y="23.66" font-size="6.0" fill="#383838" text-anchor="middle" textLength="14.3" lengthAdjust="spacingAndGlyphs">dMG</text>
<circle cx="567.5" cy="48.5" r="11.5" fill="#fccb86" stroke="#5e5e5e" stroke-width="1.05"/>
<text x="567.5" y="50.66" font-size="6.0" fill="#383838" text-anchor="middle" textLength="14.3" lengthAdjust="spacingAndGlyphs">pMG</text>
<circle cx="445.5" cy="143.8" r="11.5" fill="#f6fbb0" stroke="#5e5e5e" stroke-width="1.05"/>
<text x="445.5" y="145.96" font-size="6.0" fill="#383838" text-anchor="middle" textLength="16.5" lengthAdjust="spacingAndGlyphs">rMdG</text>
<circle cx="526.8" cy="125.5" r="11.5" fill="#fe877e" stroke="#5e5e5e" stroke-width="1.05"/>
<text x="526.8" y="127.66" font-size="6.0" fill="#383838" text-anchor="middle" textLength="17.97" lengthAdjust="spacingAndGlyphs">dMdG</text>
<circle cx="567.5" cy="144.3" r="11.5" fill="#fccb86" stroke="#5e5e5e" stroke-width="1.05"/>
<text x="567.5" y="146.46" font-size="6.0" fill="#383838" text-anchor="middle" textLength="17.97" lengthAdjust="spacingAndGlyphs">pMdG</text>
<circle cx="359.3" cy="213.6" r="11.5" fill="#fccb86" stroke="#5e5e5e" stroke-width="1.05"/>
<text x="359.3" y="215.76" font-size="6.0" fill="#383838" text-anchor="middle" textLength="17.6" lengthAdjust="spacingAndGlyphs">cMdG</text>
<circle cx="359.3" cy="243.2" r="11.5" fill="#fccb86" stroke="#5e5e5e" stroke-width="1.05"/>
<text x="359.3" y="245.36" font-size="6.0" fill="#383838" text-anchor="middle" textLength="16.87" lengthAdjust="spacingAndGlyphs">cMdB</text>
<circle cx="445.5" cy="229.8" r="11.5" fill="#f6fbb0" stroke="#5e5e5e" stroke-width="1.05"/>
<text x="445.5" y="231.96" font-size="6.0" fill="#383838" text-anchor="middle" textLength="15.77" lengthAdjust="spacingAndGlyphs">rMdB</text>
<circle cx="526.8" cy="215.6" r="11.5" fill="#fe877e" stroke="#5e5e5e" stroke-width="1.05"/>
<text x="526.8" y="217.76" font-size="6.0" fill="#383838" text-anchor="middle" textLength="17.24" lengthAdjust="spacingAndGlyphs">dMdB</text>
<circle cx="567.5" cy="224.8" r="11.5" fill="#fccb86" stroke="#5e5e5e" stroke-width="1.05"/>
<text x="567.5" y="226.96" font-size="6.0" fill="#383838" text-anchor="middle" textLength="17.24" lengthAdjust="spacingAndGlyphs">pMdB</text>
<circle cx="445.5" cy="324.5" r="11.5" fill="#f6fbb0" stroke="#5e5e5e" stroke-width="1.05"/>
<text x="445.5" y="326.66" font-size="6.0" fill="#383838" text-anchor="middle" textLength="12.1" lengthAdjust="spacingAndGlyphs">rMB</text>
<circle cx="526.8" cy="306.3" r="11.5" fill="#fe877e" stroke="#5e5e5e" stroke-width="1.05"/>
<text x="526.8" y="308.46" font-size="6.0" fill="#383838" text-anchor="middle" textLength="13.57" lengthAdjust="spacingAndGlyphs">dMB</text>
<circle cx="567.5" cy="324.5" r="11.5" fill="#fccb86" stroke="#5e5e5e" stroke-width="1.05"/>
<text x="567.5" y="326.66" font-size="6.0" fill="#383838" text-anchor="middle" textLength="13.57" lengthAdjust="spacingAndGlyphs">pMB</text>
<circle cx="359.3" cy="410.8" r="11.5" fill="#fccb86" stroke="#5e5e5e" stroke-width="1.05"/>
<text x="359.3" y="412.96" font-size="6.0" fill="#383838" text-anchor="middle" textLength="13.2" lengthAdjust="spacingAndGlyphs">cMB</text>
<rect x="266.5" y="114.5" width="45.5" height="18" fill="#a4f8a0" stroke="#666" stroke-width="1"/>
<text x="289.25" y="125.83" font-size="6.2" fill="#383838" text-anchor="middle" textLength="18" lengthAdjust="spacingAndGlyphs">Herbs</text>
<rect x="266.5" y="313.5" width="45.5" height="18" fill="#a4f8a0" stroke="#666" stroke-width="1"/>
<text x="289.25" y="325.03" font-size="6.2" fill="#383838" text-anchor="middle" textLength="19.2" lengthAdjust="spacingAndGlyphs">Woods</text>
<rect x="456.5" y="82.5" width="59" height="18" fill="#fed9fb" stroke="#808080" stroke-width="1"/>
<text x="486.0" y="94.16" font-size="6.0" fill="#383838" text-anchor="middle" textLength="41.3" lengthAdjust="spacingAndGlyphs" stroke="#383838" stroke-width="0.08">Mega Grazers</text>
<rect x="456.5" y="177.5" width="59" height="18.5" fill="#fed9fb" stroke="#808080" stroke-width="1"/>
<text x="486.0" y="189.16" font-size="6.0" fill="#383838" text-anchor="middle" textLength="48" lengthAdjust="spacingAndGlyphs" stroke="#383838" stroke-width="0.08">Medium Grazers</text>
<rect x="456.5" y="259.5" width="59" height="18" fill="#fed9fb" stroke="#808080" stroke-width="1"/>
<text x="486.0" y="271.16" font-size="6.0" fill="#383838" text-anchor="middle" textLength="51.5" lengthAdjust="spacingAndGlyphs" stroke="#383838" stroke-width="0.08">Medium Browsers</text>
<rect x="456.5" y="358.5" width="59" height="18.2" fill="#fed9fb" stroke="#808080" stroke-width="1"/>
<text x="486.0" y="370.16" font-size="6.0" fill="#383838" text-anchor="middle" textLength="44" lengthAdjust="spacingAndGlyphs" stroke="#383838" stroke-width="0.08">Mega Browsers</text>
<rect x="737.2" y="213.6" width="45.5" height="18.5" fill="#ff877f" stroke="#333" stroke-width="1.5"/>
<text x="759.95" y="224.63" font-size="6.2" fill="#383838" text-anchor="middle" textLength="26" lengthAdjust="spacingAndGlyphs">Predator</text>
</svg></body></html>
